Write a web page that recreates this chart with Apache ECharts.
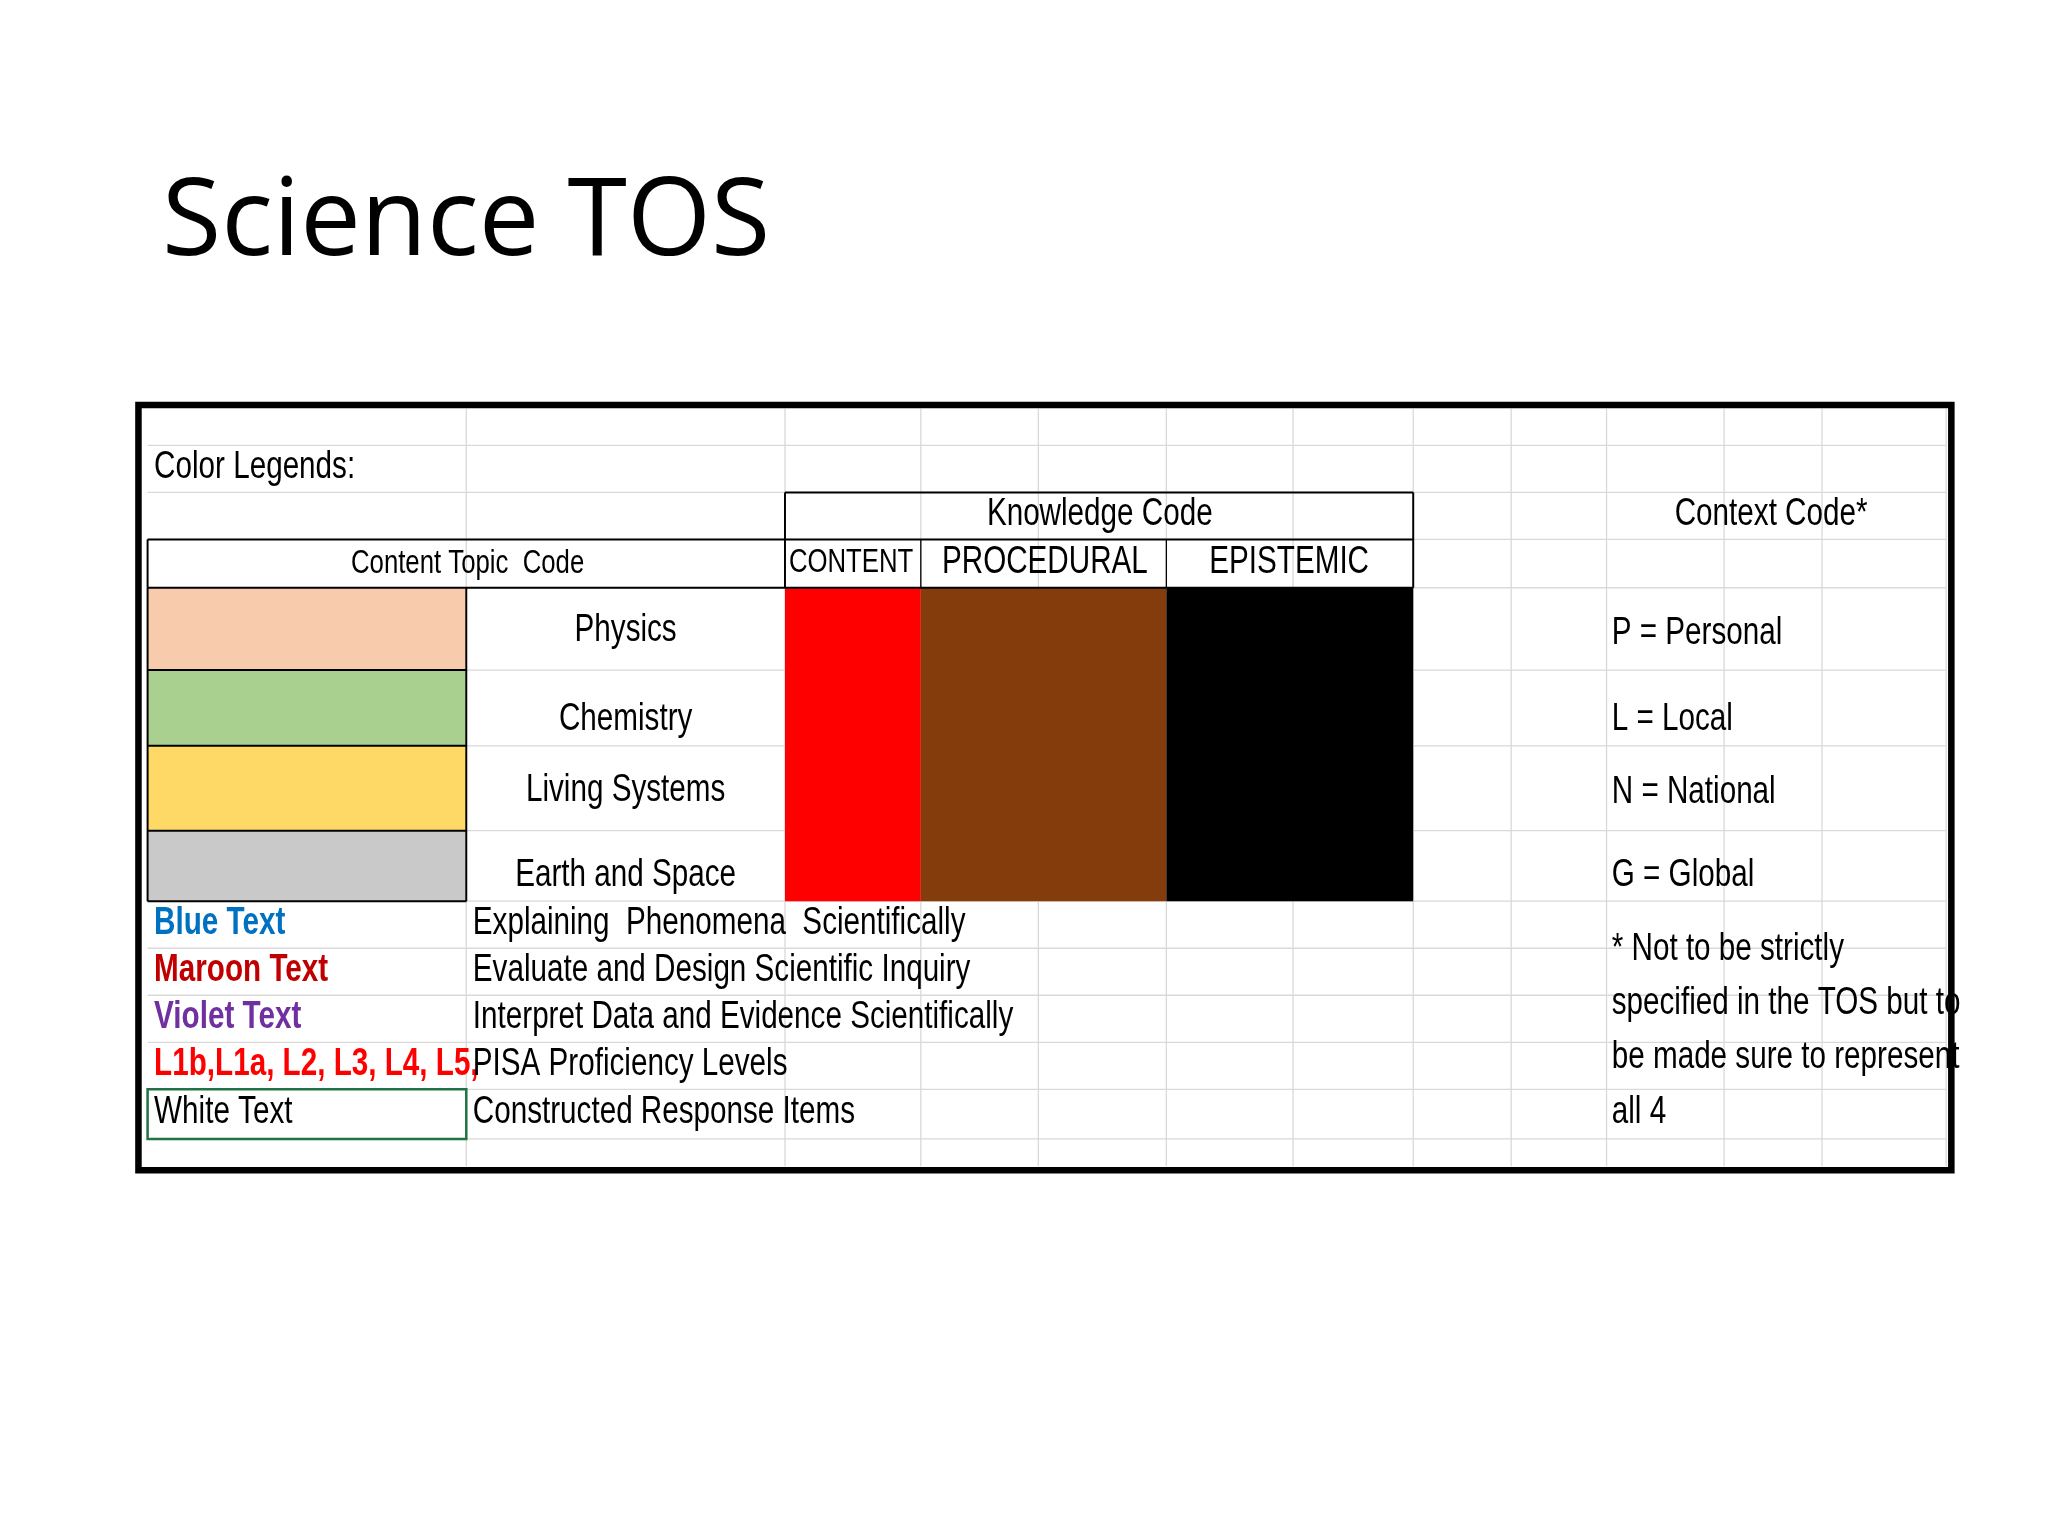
<!DOCTYPE html><html><head><meta charset="utf-8">
<script src="https://cdn.jsdelivr.net/npm/echarts@6/dist/echarts.min.js"></script>
<style>html,body{margin:0;background:#fff}#c{width:2048px;height:1536px}</style></head><body><div id="c"></div>
<script>
// reference layout units (1568 x 1176 space)
const gridVLines=[357,601,705,795,893,990,1082,1157,1230,1320,1395,1490];
const gridHLines=[341,377,413,450,513,571,636,690,726,762,798,834,872];
// filled cells: [x0,y0,x1,y1,color]
const fillCells=[
 [113,450,357,513,'#F8CBAD'],[113,513,357,571,'#A9D08E'],[113,571,357,636,'#FFD966'],[113,636,357,690,'#C9C9C9'],
 [601,450,705,690,'#FF0000'],[705,450,893,690,'#843C0C'],[893,450,1082,690,'#000000']
];
// black lines: [x0,y0,x1,y1,width]
const blackLines=[
 [601,377,1082,377,1.5],[601,377,601,450,1.5],[1082,377,1082,450,1.5],[601,413,1082,413,1.5],
 [113,413,601,413,1.5],[113,450,1082,450,1.5],[113,413,113,450,1.5],[705,413,705,450,1],[893,413,893,450,1],
 [357,450,357,690,1.5],[113,513,357,513,1.5],[113,571,357,571,1.5],[113,636,357,636,1.5],[113,690,357,690,1.5],[113,450,113,690,1.5]
];
// texts: [x,y,text,size,color,align,bold]
const texts=[
 [118,358,'Color Legends:',29,'#000','left',0],
 [842,394,'Knowledge Code',29,'#000','center',0],
 [1356,394,'Context Code*',29,'#000','center',0],
 [358,432,'Content Topic  Code',25,'#000','center',0],
 [604,431,'CONTENT',25,'#000','left',0],
 [800,431,'PROCEDURAL',29,'#000','center',0],
 [987,431,'EPISTEMIC',29,'#000','center',0],
 [479,483,'Physics',29,'#000','center',0],
 [479,551,'Chemistry',29,'#000','center',0],
 [479,605,'Living Systems',29,'#000','center',0],
 [479,670,'Earth and Space',29,'#000','center',0],
 [1234,485,'P = Personal',29,'#000','left',0],
 [1234,551,'L = Local',29,'#000','left',0],
 [1234,607,'N = National',29,'#000','left',0],
 [1234,670,'G = Global',29,'#000','left',0],
 [118,707,'Blue Text',29,'#0070C0','left',1],
 [118,743,'Maroon Text',29,'#C00000','left',1],
 [118,779,'Violet Text',29,'#7030A0','left',1],
 [118,815,'L1b,L1a, L2, L3, L4, L5,',29,'#FF0000','left',1],
 [118,852,'White Text',29,'#000','left',0],
 [362,707,'Explaining  Phenomena  Scientifically',29,'#000','left',0],
 [362,743,'Evaluate and Design Scientific Inquiry',29,'#000','left',0],
 [362,779,'Interpret Data and Evidence Scientifically',29,'#000','left',0],
 [362,815,'PISA Proficiency Levels',29,'#000','left',0],
 [362,852,'Constructed Response Items',29,'#000','left',0],
 [1234,727,'* Not to be strictly',29,'#000','left',0],
 [1234,768,'specified in the TOS but to',29,'#000','left',0],
 [1234,810,'be made sure to represent',29,'#000','left',0],
 [1234,852,'all 4',29,'#000','left',0]
];
const titleText='Science TOS';
const ch=echarts.init(document.getElementById('c'));
const S=()=>ch.getWidth()/1568;
const FONT='"Liberation Sans",Arial,sans-serif';
ch.setOption({
 animation:false,
 grid:{left:0,right:0,top:0,bottom:0},
 xAxis:{type:'value',min:0,max:1568,show:false},
 yAxis:{type:'value',min:0,max:1176,inverse:true,show:false},
 series:[
  {type:'custom',data:gridVLines.map(v=>[v]),renderItem:(p,api)=>{const a=api.coord([api.value(0),313]),b=api.coord([api.value(0),893]);return{type:'line',shape:{x1:a[0],y1:a[1],x2:b[0],y2:b[1]},style:{stroke:'#D9D9D9',lineWidth:1.3}};}},
  {type:'custom',data:gridHLines.map(v=>[v]),renderItem:(p,api)=>{const a=api.coord([113,api.value(0)]),b=api.coord([1490,api.value(0)]);return{type:'line',shape:{x1:a[0],y1:a[1],x2:b[0],y2:b[1]},style:{stroke:'#D9D9D9',lineWidth:1.3}};}},
  {type:'custom',data:fillCells,renderItem:(p,api)=>{const a=api.coord([api.value(0),api.value(1)]),b=api.coord([api.value(2),api.value(3)]);return{type:'rect',shape:{x:a[0],y:a[1],width:b[0]-a[0],height:b[1]-a[1]},style:{fill:fillCells[p.dataIndex][4]}};}},
  {type:'custom',data:blackLines,renderItem:(p,api)=>{const a=api.coord([api.value(0),api.value(1)]),b=api.coord([api.value(2),api.value(3)]);return{type:'line',shape:{x1:a[0],y1:a[1],x2:b[0],y2:b[1]},style:{stroke:'#000',lineWidth:api.value(4)*S()}};}},
  {type:'custom',data:[[113,834,357,872]],renderItem:(p,api)=>{const a=api.coord([api.value(0),api.value(1)]),b=api.coord([api.value(2),api.value(3)]);return{type:'rect',shape:{x:a[0],y:a[1],width:b[0]-a[0],height:b[1]-a[1]},style:{fill:'none',stroke:'#217346',lineWidth:2.5}};}},
  {type:'custom',data:[[106,310,1494,896]],renderItem:(p,api)=>{const a=api.coord([api.value(0),api.value(1)]),b=api.coord([api.value(2),api.value(3)]);return{type:'rect',shape:{x:a[0],y:a[1],width:b[0]-a[0],height:b[1]-a[1]},style:{fill:'none',stroke:'#000',lineWidth:5*S()}};}},
  {type:'custom',data:texts.map(t=>[t[0],t[1]]),renderItem:(p,api)=>{const t=texts[p.dataIndex];const a=api.coord([t[0],t[1]]);return{type:'text',x:a[0],y:a[1],scaleX:0.78,style:{text:t[2],fill:t[4],align:t[5],verticalAlign:'middle',font:(t[6]?'bold ':'')+Math.round(t[3]*S())+'px '+FONT}};}},
  {type:'custom',data:[[124,172]],renderItem:(p,api)=>{const a=api.coord([api.value(0),api.value(1)]);return{type:'text',x:a[0],y:a[1],style:{text:titleText,fill:'#000',align:'left',verticalAlign:'middle',font:Math.round(83*S())+'px "Open Sans",Lato,sans-serif'}};}}
 ]
});
</script></body></html>
